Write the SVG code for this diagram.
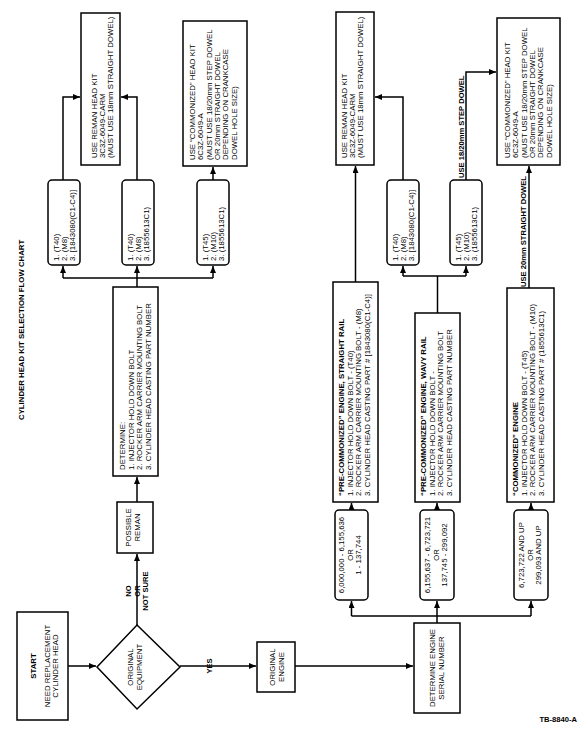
<svg xmlns="http://www.w3.org/2000/svg" width="580" height="731" viewBox="0 0 580 731">
<defs>
<style>
.t{font-family:"Liberation Sans",Arial,Helvetica,sans-serif;font-size:7.8px;fill:#000}
.b{font-weight:bold}
.lb{font-family:"Liberation Sans",Arial,Helvetica,sans-serif;font-size:7.6px;font-weight:bold;fill:#000}
.m{text-anchor:middle}
.box{fill:#fff;stroke:#000;stroke-width:1.5}
.ln{fill:none;stroke:#000;stroke-width:1.5}
</style>
<marker id="ah" markerUnits="userSpaceOnUse" markerWidth="8" markerHeight="6" refX="7" refY="3" orient="auto">
<path d="M0,0 L7,3 L0,6 z" fill="#000"/>
</marker>
</defs>
<rect width="580" height="731" fill="#fff"/>

<text class="t b" font-size="8.5" transform="translate(24,420) rotate(-90)">CYLINDER HEAD KIT SELECTION FLOW CHART</text>

<g id="connectors">
<path class="ln" d="M68,666 H96" marker-end="url(#ah)"/>
<path class="ln" d="M137,625 V554" marker-end="url(#ah)"/>
<path class="ln" d="M137,502 V477" marker-end="url(#ah)"/>
<path class="ln" d="M137,287 V266" marker-end="url(#ah)"/>
<path class="ln" d="M63,278 H213"/>
<path class="ln" d="M63,278 V266" marker-end="url(#ah)"/>
<path class="ln" d="M213,278 V266" marker-end="url(#ah)"/>
<path class="ln" d="M63,180 V97 H80" marker-end="url(#ah)"/>
<path class="ln" d="M137,180 V97 H121" marker-end="url(#ah)"/>
<path class="ln" d="M213,180 V167" marker-end="url(#ah)"/>
<path class="ln" d="M180,666 H256" marker-end="url(#ah)"/>
<path class="ln" d="M295,666 H413" marker-end="url(#ah)"/>
<path class="ln" d="M437,623 V601" marker-end="url(#ah)"/>
<path class="ln" d="M351.5,616 H531"/>
<path class="ln" d="M351.5,616 V601" marker-end="url(#ah)"/>
<path class="ln" d="M531,616 V601" marker-end="url(#ah)"/>
<path class="ln" d="M351.5,510 V503" marker-end="url(#ah)"/>
<path class="ln" d="M437,510 V503" marker-end="url(#ah)"/>
<path class="ln" d="M531,510 V503" marker-end="url(#ah)"/>
<path class="ln" d="M355.5,282 V166" marker-end="url(#ah)"/>
<path class="ln" d="M437.5,313 V276"/>
<path class="ln" d="M403,276 H466"/>
<path class="ln" d="M403,276 V266" marker-end="url(#ah)"/>
<path class="ln" d="M466,276 V266" marker-end="url(#ah)"/>
<path class="ln" d="M403,180 V97 H375" marker-end="url(#ah)"/>
<path class="ln" d="M466,180 V72 H496" marker-end="url(#ah)"/>
<path class="ln" d="M529,288 V166" marker-end="url(#ah)"/>
<text class="lb m" transform="translate(131,591) rotate(-90)"><tspan x="0" y="0">NO</tspan><tspan x="0" y="8.5">OR</tspan><tspan x="0" y="17">NOT SURE</tspan></text>
<text class="lb m" transform="translate(212,666) rotate(-90)">YES</text>
<text class="lb" transform="translate(464,178) rotate(-90)">USE 18/20mm STEP DOWEL</text>
<text class="lb" transform="translate(526,287) rotate(-90)">USE 20mm STRAIGHT DOWEL</text>
</g>

<g id="start">
<rect class="box" x="17" y="612" width="51" height="108"/>
<text class="t m" transform="translate(36,666) rotate(-90)"><tspan class="b" x="0" y="0">START</tspan><tspan x="0" y="14">NEED REPLACEMENT</tspan><tspan x="0" y="22">CYLINDER HEAD</tspan></text>
</g>

<g id="original-equipment">
<polygon class="box" points="137,625 180,667 137,709 97,667"/>
<text class="t m" transform="translate(133,667) rotate(-90)"><tspan x="0" y="0">ORIGINAL</tspan><tspan x="0" y="8.5">EQUIPMENT</tspan></text>
</g>

<g id="possible-reman">
<rect class="box" x="117" y="502" width="36" height="51"/>
<text class="t m" transform="translate(131,527.5) rotate(-90)"><tspan x="0" y="0">POSSIBLE</tspan><tspan x="0" y="9">REMAN</tspan></text>
</g>

<g id="determine-bolts">
<rect class="box" x="113" y="287" width="45" height="189"/>
<text class="t" transform="translate(125,470) rotate(-90)"><tspan x="0" y="0">DETERMINE:</tspan><tspan x="0" y="8.5">1. INJECTOR HOLD DOWN BOLT</tspan><tspan x="0" y="17">2. ROCKER ARM CARRIER MOUNTING BOLT</tspan><tspan x="0" y="25.5">3. CYLINDER HEAD CASTING PART NUMBER</tspan></text>
</g>

<g id="bolts-a">
<rect class="box" x="48" y="180" width="32" height="85" rx="4"/>
<text class="t" transform="translate(58.8,261) rotate(-90)"><tspan x="0" y="0">1. (T40)</tspan><tspan x="0" y="8">2. (M8)</tspan><tspan x="0" y="16">3. [1843080(C1-C4)]</tspan></text>
</g>

<g id="bolts-b">
<rect class="box" x="122" y="180" width="32" height="85" rx="4"/>
<text class="t" transform="translate(132.8,261) rotate(-90)"><tspan x="0" y="0">1. (T40)</tspan><tspan x="0" y="8">2. (M8)</tspan><tspan x="0" y="16">3. (1855613C1)</tspan></text>
</g>

<g id="bolts-c">
<rect class="box" x="197" y="180" width="32" height="85" rx="4"/>
<text class="t" transform="translate(207.8,261) rotate(-90)"><tspan x="0" y="0">1. (T45)</tspan><tspan x="0" y="8">2. (M10)</tspan><tspan x="0" y="16">3. (1855613C1)</tspan></text>
</g>

<g id="reman-kit-1">
<rect class="box" x="81" y="13" width="39" height="152"/>
<text class="t" transform="translate(97,158) rotate(-90)"><tspan x="0" y="0">USE REMAN HEAD KIT</tspan><tspan x="0" y="8">3C3Z-6049-CARM</tspan><tspan x="0" y="16">(MUST USE 18mm STRAIGHT DOWEL)</tspan></text>
</g>

<g id="commonized-kit-1">
<rect class="box" x="183" y="21" width="64" height="145"/>
<text class="t" transform="translate(195,160) rotate(-90)"><tspan x="0" y="0">USE “COMMONIZED” HEAD KIT</tspan><tspan x="0" y="8.3">6C3Z-6049-A</tspan><tspan x="0" y="16.6">(MUST USE 18/20mm STEP DOWEL</tspan><tspan x="0" y="24.9">OR 20mm STRAIGHT DOWEL</tspan><tspan x="0" y="33.2">DEPENDING ON CRANKCASE</tspan><tspan x="0" y="41.5">DOWEL HOLE SIZE)</tspan></text>
</g>

<g id="original-engine">
<rect class="box" x="257" y="642" width="38" height="50"/>
<text class="t m" transform="translate(274.5,667) rotate(-90)"><tspan x="0" y="0">ORIGINAL</tspan><tspan x="0" y="9">ENGINE</tspan></text>
</g>

<g id="determine-serial">
<rect class="box" x="414" y="623" width="46" height="90"/>
<text class="t m" transform="translate(434.5,668) rotate(-90)"><tspan x="0" y="0">DETERMINE ENGINE</tspan><tspan x="0" y="9.5">SERIAL NUMBER</tspan></text>
</g>

<g id="serial-1">
<rect class="box" x="335" y="510" width="33" height="90" rx="4"/>
<text class="t m" transform="translate(344,555) rotate(-90)"><tspan x="0" y="0">6,000,000 - 6,155,636</tspan><tspan x="0" y="8.5">OR</tspan><tspan x="0" y="17">1 - 137,744</tspan></text>
</g>

<g id="serial-2">
<rect class="box" x="420" y="510" width="34" height="90" rx="4"/>
<text class="t m" transform="translate(430,555) rotate(-90)"><tspan x="0" y="0">6,155,637 - 6,723,721</tspan><tspan x="0" y="8.5">OR</tspan><tspan x="0" y="17">137,745 - 299,092</tspan></text>
</g>

<g id="serial-3">
<rect class="box" x="514" y="510" width="34" height="90" rx="4"/>
<text class="t m" transform="translate(524,555) rotate(-90)"><tspan x="0" y="0">6,723,722 AND UP</tspan><tspan x="0" y="8.5">OR</tspan><tspan x="0" y="17">299,093 AND UP</tspan></text>
</g>

<g id="engine-straight-rail">
<rect class="box" x="333" y="282" width="45" height="220"/>
<text class="t" transform="translate(344,496) rotate(-90)"><tspan class="b" x="0" y="0">“PRE-COMMONIZED” ENGINE, STRAIGHT RAIL</tspan><tspan x="0" y="8.5">1. INJECTOR HOLD DOWN BOLT - (T40)</tspan><tspan x="0" y="17">2. ROCKER ARM CARRIER MOUNTING BOLT - (M8)</tspan><tspan x="0" y="25.5">3. CYLINDER HEAD CASTING PART # [1843080(C1-C4)]</tspan></text>
</g>

<g id="engine-wavy-rail">
<rect class="box" x="415" y="313" width="45" height="189"/>
<text class="t" transform="translate(426,496) rotate(-90)"><tspan class="b" x="0" y="0">“PRE-COMMONIZED” ENGINE, WAVY RAIL</tspan><tspan x="0" y="8.5">1. INJECTOR HOLD DOWN BOLT -</tspan><tspan x="0" y="17">2. ROCKER ARM CARRIER MOUNTING BOLT</tspan><tspan x="0" y="25.5">3. CYLINDER HEAD CASTING PART NUMBER</tspan></text>
</g>

<g id="engine-commonized">
<rect class="box" x="507" y="288" width="47" height="214"/>
<text class="t" transform="translate(518,496) rotate(-90)"><tspan class="b" x="0" y="0">“COMMONIZED” ENGINE</tspan><tspan x="0" y="8.5">1. INJECTOR HOLD DOWN BOLT - (T45)</tspan><tspan x="0" y="17">2. ROCKER ARM CARRIER MOUNTING BOLT - (M10)</tspan><tspan x="0" y="25.5">3. CYLINDER HEAD CASTING PART # (1855613C1)</tspan></text>
</g>

<g id="reman-kit-2">
<rect class="box" x="336" y="12" width="38" height="153"/>
<text class="t" transform="translate(347,158) rotate(-90)"><tspan x="0" y="0">USE REMAN HEAD KIT</tspan><tspan x="0" y="8">3C3Z-6049-CARM</tspan><tspan x="0" y="16">(MUST USE 18mm STRAIGHT DOWEL)</tspan></text>
</g>

<g id="bolts-d">
<rect class="box" x="387" y="180" width="32" height="85" rx="4"/>
<text class="t" transform="translate(397.8,261) rotate(-90)"><tspan x="0" y="0">1. (T40)</tspan><tspan x="0" y="8">2. (M8)</tspan><tspan x="0" y="16">3. [1843080(C1-C4)]</tspan></text>
</g>

<g id="bolts-e">
<rect class="box" x="450" y="180" width="32" height="85" rx="4"/>
<text class="t" transform="translate(460.8,261) rotate(-90)"><tspan x="0" y="0">1. (T45)</tspan><tspan x="0" y="8">2. (M10)</tspan><tspan x="0" y="16">3. (1855613C1)</tspan></text>
</g>

<g id="commonized-kit-2">
<rect class="box" x="497" y="18" width="63" height="147"/>
<text class="t" transform="translate(510,158) rotate(-90)"><tspan x="0" y="0">USE “COMMONIZED” HEAD KIT</tspan><tspan x="0" y="8.3">6C3Z-6049-A</tspan><tspan x="0" y="16.6">(MUST USE 18/20mm STEP DOWEL</tspan><tspan x="0" y="24.9">OR 20mm STRAIGHT DOWEL</tspan><tspan x="0" y="33.2">DEPENDING ON CRANKCASE</tspan><tspan x="0" y="41.5">DOWEL HOLE SIZE)</tspan></text>
</g>

<text class="lb" font-size="7.5" text-anchor="end" x="577" y="722">TB-8840-A</text>
</svg>
